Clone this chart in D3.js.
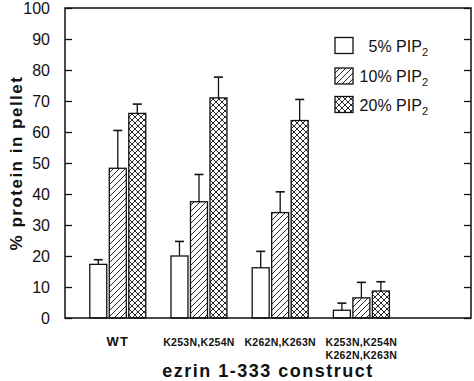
<!DOCTYPE html>
<html>
<head>
<meta charset="utf-8">
<script src="https://cdn.jsdelivr.net/npm/d3@7"></script>
<style>
  body { margin: 0; background: #fff; }
  svg { display: block; font-family: "Liberation Sans", Arial, sans-serif; }
</style>
</head>
<body>
<svg id="chart" width="474" height="381"></svg>
<script>
// data
const constructs = ["WT", "K253N,K254N", "K262N,K263N", "K253N,K254N\nK262N,K263N"];
const seriesNames = ["5%", "10%", "20%"];
const pip5 = [17.3, 20.0, 16.2, 2.5];
const pip10 = [48.3, 37.5, 34.0, 6.5];
const pip20 = [66.0, 71.0, 63.7, 8.7];
const err5 = [1.5, 4.7, 5.3, 2.3];
const err10 = [12.2, 8.8, 6.7, 5.0];
const err20 = [3.0, 6.7, 6.8, 3.0];
const yTicks = [0, 10, 20, 30, 40, 50, 60, 70, 80, 90, 100];

const svg = d3.select('#chart');
const mLeft = 65, mRight = 471, mTop = 8, mBottom = 318;

const x = d3.scaleLinear().domain([0.35, 5.35]).range([mLeft, mRight]);
const y = d3.scaleLinear().domain([0, 100]).range([mBottom, mTop]);

// patterns for the fills
const defs = svg.append('defs');
const diag = defs.append('pattern')
    .attr('id', 'diag')
    .attr('patternUnits', 'userSpaceOnUse')
    .attr('width', 6).attr('height', 6);
diag.append('path')
    .attr('d', 'M-1,7 L7,-1 M-1,1 L1,-1 M5,7 L7,5')
    .attr('stroke', '#111').attr('stroke-width', 0.9);

const cross = defs.append('pattern')
    .attr('id', 'cross')
    .attr('patternUnits', 'userSpaceOnUse')
    .attr('width', 6).attr('height', 6);
cross.append('path')
    .attr('d', 'M0,0 L6,6 M6,0 L0,6')
    .attr('stroke', '#111').attr('stroke-width', 0.9);

const fills = ['#fff', 'url(#diag)', 'url(#cross)'];
const values = [pip5, pip10, pip20];
const errors = [err5, err10, err20];

const barW = 17, step = 19.5;

// bars
values.forEach((vals, s) => {
    const g = svg.append('g').attr('class', 'series-' + s);
    vals.forEach((v, i) => {
        const cx = x(i + 1) + (s - 1) * step;
        const e = errors[s][i];
        // error bar first so the bar covers the lower part
        g.append('line')
            .attr('x1', cx).attr('x2', cx)
            .attr('y1', y(v)).attr('y2', y(v + e))
            .attr('stroke', '#111').attr('stroke-width', 1.3);
        g.append('line')
            .attr('x1', cx - 4.5).attr('x2', cx + 4.5)
            .attr('y1', y(v + e)).attr('y2', y(v + e))
            .attr('stroke', '#111').attr('stroke-width', 1.6);
        g.append('rect')
            .attr('x', cx - barW / 2)
            .attr('y', y(v))
            .attr('width', barW)
            .attr('height', y(0) - y(v))
            .attr('fill', fills[s])
            .attr('stroke', '#111').attr('stroke-width', 1.3);
    });
});

// frame
svg.append('rect')
    .attr('x', mLeft).attr('y', mTop)
    .attr('width', mRight - mLeft).attr('height', mBottom - mTop)
    .attr('fill', 'none').attr('stroke', '#111').attr('stroke-width', 1.5);

// left axis, ticks pointing inward
const yAxis = d3.axisLeft(y).tickValues(yTicks).tickSize(-7).tickPadding(15);
const ya = svg.append('g').attr('transform', `translate(${mLeft},0)`).call(yAxis);
ya.select('.domain').remove();
ya.selectAll('.tick line').attr('stroke', '#111').attr('stroke-width', 1.3);
ya.selectAll('.tick text')
    .attr('font-size', 16).attr('fill', '#111')
    .attr('font-family', '"Liberation Sans", Arial, sans-serif');

// right side ticks
const yRight = d3.axisRight(y).tickValues(yTicks).tickSize(-7).tickFormat('');
const yr = svg.append('g').attr('transform', `translate(${mRight},0)`).call(yRight);
yr.select('.domain').remove();
yr.selectAll('.tick line').attr('stroke', '#111').attr('stroke-width', 1.3);

// category labels
constructs.forEach((c, i) => {
    const lines = c.split('\n');
    const t = svg.append('text')
        .attr('x', x(i + 1))
        .attr('y', 346)
        .attr('text-anchor', 'middle')
        .attr('font-size', i === 0 ? 13 : 10.5)
        .attr('font-weight', 'bold')
        .attr('letter-spacing', i === 0 ? 1.2 : 0.3)
        .attr('fill', '#111');
    lines.forEach((l, k) => {
        t.append('tspan')
            .attr('x', x(i + 1))
            .attr('dy', k === 0 ? 0 : 13)
            .text(l);
    });
});

// axis titles
svg.append('text')
    .attr('x', 268).attr('y', 377)
    .attr('text-anchor', 'middle')
    .attr('font-size', 18).attr('font-weight', 'bold')
    .attr('letter-spacing', 1.5)
    .attr('fill', '#111')
    .text('ezrin 1-333 construct');

svg.append('text')
    .attr('transform', `translate(22,${(mTop + mBottom) / 2}) rotate(-90)`)
    .attr('text-anchor', 'middle')
    .attr('font-size', 17).attr('font-weight', 'bold')
    .attr('letter-spacing', 1.5)
    .attr('fill', '#111')
    .text('% protein in pellet');

// legend
const legendY = [45.5, 76, 104.5];
seriesNames.forEach((n, s) => {
    svg.append('rect')
        .attr('x', 335).attr('y', legendY[s] - 8)
        .attr('width', 18).attr('height', 16)
        .attr('fill', fills[s])
        .attr('stroke', '#111').attr('stroke-width', 1.3);
    const t = svg.append('text')
        .attr('x', 428).attr('y', legendY[s] + 6)
        .attr('text-anchor', 'end')
        .attr('font-size', 16)
        .attr('fill', '#111');
    t.append('tspan').text(n + ' PIP');
    t.append('tspan').attr('font-size', 11).attr('dy', 4).text('2');
});
</script>
</body>
</html>
